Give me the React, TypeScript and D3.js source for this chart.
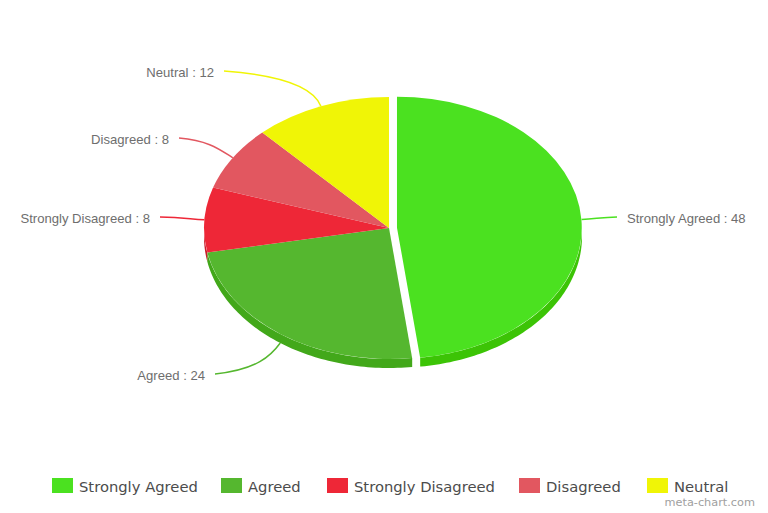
import React from 'react';
import * as d3 from 'd3';

const categories = ['Strongly Agreed', 'Agreed', 'Strongly Disagreed', 'Disagreed', 'Neutral'];
const values = [48, 24, 8, 8, 12];
const exploded = [true, false, false, false, false];

const topColors = ['#4be120', '#55b72f', '#ee2737', '#e25760', '#f0f506'];
const wallColors = ['#3cc406', '#42a81a', '#c91c2a', '#c0444c', '#cdd200'];

// where each leader line stops, next to its label
const labelEndX = [617, 215, 160, 179, 224];
const labelEndY = [217, 374, 217, 138, 71];
const legendSwatchX = [52, 221, 327, 519, 647];

const width = 768;
const height = 513;
const cx = 389;
const cy = 228;
const rx = 185;
const ry = 131;
const depth = 9;
const explode = 8;

export default function App() {
  const slices = d3.pie<number>().sort(null)(values);
  const arc = d3.arc<d3.PieArcDatum<number>>().innerRadius(0).outerRadius(1);

  const centers = slices.map((s, i) => {
    const mid = (s.startAngle + s.endAngle) / 2;
    const off = exploded[i] ? explode : 0;
    return {
      mid,
      x: cx + off * Math.sin(mid),
      y: cy - (off * Math.cos(mid) * ry) / rx,
    };
  });

  // outer wall of the 3D pie, only the part facing the viewer
  const wallPath = (s: d3.PieArcDatum<number>, i: number) => {
    const a0 = Math.max(s.startAngle, Math.PI / 2);
    const a1 = Math.min(s.endAngle, (3 * Math.PI) / 2);
    if (a1 <= a0) return null;
    const c = centers[i];
    const angles = [...d3.range(a0, a1, 0.02), a1];
    return d3
      .area<number>()
      .x((a) => c.x + rx * Math.sin(a))
      .y0((a) => c.y - ry * Math.cos(a))
      .y1((a) => c.y - ry * Math.cos(a) + depth)(angles);
  };

  const leaderPath = (i: number) => {
    const c = centers[i];
    const dx = Math.sin(c.mid);
    const dy = -Math.cos(c.mid);
    const ax = c.x + rx * dx;
    const ay = c.y + ry * dy + (dy > 0.3 ? depth : 0);
    const ex = ax + dx * 16;
    const ey = ay + dy * 16;
    const p = d3.path();
    p.moveTo(labelEndX[i], labelEndY[i]);
    p.bezierCurveTo(
      labelEndX[i] + (ex - labelEndX[i]) * 0.75,
      labelEndY[i] + (ey - labelEndY[i]) * 0.25,
      ex,
      ey,
      ax,
      ay
    );
    return p.toString();
  };

  return (
    <svg
      width={width}
      height={height}
      style={{ position: 'absolute', left: 0, top: 0, background: '#fff' }}
    >
      {slices.map((s, i) => (
        <path key={i} d={leaderPath(i)} fill="none" stroke={topColors[i]} strokeWidth={1.5} />
      ))}
      {slices.map((s, i) => {
        const d = wallPath(s, i);
        return d ? <path key={i} d={d} fill={wallColors[i]} /> : null;
      })}
      {slices.map((s, i) => (
        <path
          key={i}
          d={arc(s) || ''}
          fill={topColors[i]}
          transform={`translate(${centers[i].x},${centers[i].y}) scale(${rx},${ry})`}
        />
      ))}
      <g fontFamily="'Liberation Sans', Arial, sans-serif" fontSize={13.1} fill="#6e6e6e">
        {slices.map((s, i) => {
          const left = Math.sin(centers[i].mid) < 0;
          return (
            <text
              key={i}
              x={labelEndX[i] + (left ? -10 : 10)}
              y={labelEndY[i] + 5.5}
              textAnchor={left ? 'end' : 'start'}
            >
              {`${categories[i]} : ${values[i]}`}
            </text>
          );
        })}
      </g>
      <g fontFamily="'DejaVu Sans', sans-serif" fontSize={14.75} fill="#4c4c4c">
        {categories.map((c, i) => (
          <g key={c} transform={`translate(${legendSwatchX[i]},478)`}>
            <rect width={21} height={15} fill={topColors[i]} />
            <text x={27} y={14}>
              {c}
            </text>
          </g>
        ))}
      </g>
      <text
        x={755}
        y={506}
        textAnchor="end"
        fontFamily="'DejaVu Sans', sans-serif"
        fontSize={11.3}
        fill="#a0a0a0"
      >
        meta-chart.com
      </text>
    </svg>
  );
}
